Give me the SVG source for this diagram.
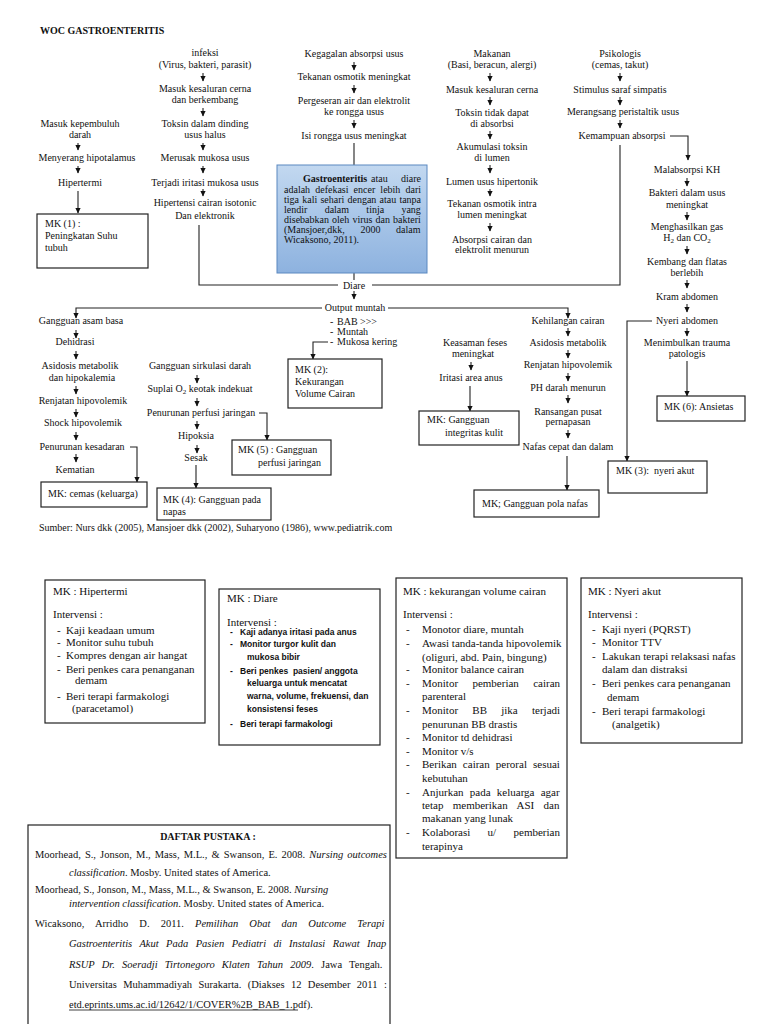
<svg xmlns="http://www.w3.org/2000/svg" width="768" height="1024" viewBox="0 0 768 1024">
<defs>
<marker id="ah" markerUnits="userSpaceOnUse" markerWidth="6" markerHeight="6" refX="5" refY="3" orient="auto"><path d="M0,0.4 L5.5,3 L0,5.6 z" fill="#111"/></marker>
<linearGradient id="bg" x1="0" y1="0" x2="0" y2="1"><stop offset="0" stop-color="#c2d8f0"/><stop offset="1" stop-color="#8db2df"/></linearGradient>
<style>
text{font-family:"Liberation Serif","Times New Roman",serif;font-size:10px;fill:#111}
.m{text-anchor:middle}
.bx{fill:#fff;stroke:#222;stroke-width:1.2}
.c{fill:none;stroke:#222;stroke-width:1.1}
.a{fill:none;stroke:#111;stroke-width:1;marker-end:url(#ah)}
.ca{fill:none;stroke:#222;stroke-width:1.1;marker-end:url(#ah)}
.s11{font-size:11px}
.sb{font-family:"Liberation Sans",Arial,sans-serif;font-size:8.5px;font-weight:bold}
.r{font-size:10.5px}
.i{font-style:italic}
.sub{font-size:7px}
</style>
</defs>
<rect width="768" height="1024" fill="#fff"/>
<text x="40" y="34" font-weight="bold" font-size="9.5">WOC GASTROENTERITIS</text>

<g id="connectors">
<line class="a" x1="78" y1="143" x2="78" y2="150"/>
<line class="a" x1="78" y1="166" x2="78" y2="173"/>
<line class="a" x1="203" y1="73" x2="203" y2="81"/>
<line class="a" x1="203" y1="108" x2="203" y2="116"/>
<line class="a" x1="203" y1="143" x2="203" y2="150"/>
<line class="a" x1="203" y1="166" x2="203" y2="173"/>
<line class="a" x1="203" y1="189" x2="203" y2="196"/>
<line class="a" x1="354" y1="62" x2="354" y2="70"/>
<line class="a" x1="354" y1="85" x2="354" y2="93"/>
<line class="a" x1="354" y1="120" x2="354" y2="128"/>
<line class="a" x1="490" y1="73" x2="490" y2="81"/>
<line class="a" x1="490" y1="97" x2="490" y2="105"/>
<line class="a" x1="490" y1="131" x2="490" y2="139"/>
<line class="a" x1="490" y1="165" x2="490" y2="173"/>
<line class="a" x1="490" y1="189" x2="490" y2="196"/>
<line class="a" x1="490" y1="223" x2="490" y2="231"/>
<line class="a" x1="620" y1="73" x2="620" y2="81"/>
<line class="a" x1="620" y1="97" x2="620" y2="105"/>
<line class="a" x1="620" y1="120" x2="620" y2="128"/>
<line class="a" x1="687" y1="178" x2="687" y2="186"/>
<line class="a" x1="687" y1="212" x2="687" y2="220"/>
<line class="a" x1="687" y1="246" x2="687" y2="254"/>
<line class="a" x1="687" y1="280" x2="687" y2="288"/>
<line class="a" x1="687" y1="304" x2="687" y2="312"/>
<line class="a" x1="687" y1="328" x2="687" y2="336"/>
<line class="a" x1="354" y1="291" x2="354" y2="299"/>
<line class="a" x1="568" y1="328" x2="568" y2="336"/>
<line class="a" x1="568" y1="350" x2="568" y2="358"/>
<line class="a" x1="568" y1="373" x2="568" y2="381"/>
<line class="a" x1="568" y1="395" x2="568" y2="403"/>
<line class="a" x1="568" y1="430" x2="568" y2="438"/>
<line class="a" x1="471" y1="362" x2="471" y2="370"/>
<line class="a" x1="76" y1="330" x2="76" y2="338"/>
<line class="a" x1="76" y1="351" x2="76" y2="359"/>
<line class="a" x1="76" y1="386" x2="76" y2="394"/>
<line class="a" x1="76" y1="409" x2="76" y2="417"/>
<line class="a" x1="76" y1="432" x2="76" y2="440"/>
<line class="a" x1="76" y1="454" x2="76" y2="462"/>
<line class="a" x1="197" y1="375" x2="197" y2="383"/>
<line class="a" x1="197" y1="398" x2="197" y2="406"/>
<line class="a" x1="197" y1="421" x2="197" y2="429"/>
<line class="a" x1="197" y1="445" x2="197" y2="453"/>
<path class="ca" d="M78,191 V213"/>
<path class="c" d="M199,225 V285 H338"/>
<path class="c" d="M620,145 V285 H372"/>
<path class="c" d="M354,143 V165"/>
<path class="c" d="M354,273 V280"/>
<path class="ca" d="M322,308 H76 V318"/>
<path class="ca" d="M388,308 H568 V318"/>
<path class="ca" d="M328,342 H313 V359"/>
<path class="ca" d="M670,136 H688 V160"/>
<path class="ca" d="M652,321 H627 V461"/>
<path class="ca" d="M687,361 V396"/>
<path class="ca" d="M567,456 V490"/>
<path class="ca" d="M470,386 V411"/>
<path class="ca" d="M130,447 H137 V482"/>
<path class="ca" d="M259,413 H267 V440"/>
<path class="ca" d="M196,465 V488"/>
</g>

<g id="n-kepembuluh"><text class="m" x="80" y="127">Masuk kepembuluh</text><text class="m" x="80" y="138">darah</text></g>
<g id="n-hipotalamus"><text class="m" x="87" y="161">Menyerang hipotalamus</text></g>
<g id="n-hipertermi"><text class="m" x="80" y="186">Hipertermi</text></g>
<g id="mk1"><rect class="bx" x="37" y="214" width="111" height="54"/><text x="45" y="227">MK (1) :</text><text x="45" y="239">Peningkatan Suhu</text><text x="45" y="251">tubuh</text></g>

<g id="n-infeksi"><text class="m" x="205" y="56">infeksi</text><text class="m" x="205" y="68">(Virus, bakteri, parasit)</text></g>
<g id="n-masuk1"><text class="m" x="205" y="92">Masuk kesaluran cerna</text><text class="m" x="205" y="103">dan berkembang</text></g>
<g id="n-toksin1"><text class="m" x="205" y="127">Toksin dalam dinding</text><text class="m" x="205" y="138">usus halus</text></g>
<g id="n-merusak"><text class="m" x="205" y="161">Merusak mukosa usus</text></g>
<g id="n-iritasi"><text class="m" x="205" y="186">Terjadi iritasi mukosa usus</text></g>
<g id="n-hipertensi"><text class="m" x="205" y="206">Hipertensi cairan isotonic</text><text class="m" x="205" y="219">Dan elektronik</text></g>

<g id="n-kegagalan"><text class="m" x="354" y="57">Kegagalan absorpsi usus</text></g>
<g id="n-tekanan1"><text class="m" x="354" y="80">Tekanan osmotik meningkat</text></g>
<g id="n-pergeseran"><text class="m" x="354" y="104">Pergeseran air dan elektrolit</text><text class="m" x="354" y="115">ke rongga usus</text></g>
<g id="n-isi"><text class="m" x="354" y="139">Isi rongga usus meningkat</text></g>
<g id="n-def">
<rect x="277" y="165" width="150" height="108" fill="url(#bg)" stroke="#5a88c0" stroke-width="1"/>
<text x="303" y="182" font-weight="bold">Gastroenteritis</text><text x="371" y="182">atau</text><text x="421" y="182" text-anchor="end">diare</text>
<text x="284" y="192.5" word-spacing="2.6">adalah defekasi encer lebih dari</text>
<text x="284" y="202.5" word-spacing="0.7">tiga kali sehari dengan atau tanpa</text>
<text x="284" y="212.5" word-spacing="14.8">lendir dalam tinja yang</text>
<text x="284" y="222.5" word-spacing="0.6">disebabkan oleh virus dan bakteri</text>
<text x="284" y="232.5" word-spacing="13.2">(Mansjoer,dkk, 2000 dalam</text>
<text x="284" y="242.5">Wicaksono, 2011).</text>
</g>
<g id="n-diare"><text class="m" x="354" y="289">Diare</text></g>
<g id="n-output"><text class="m" x="355" y="311">Output muntah</text>
<text x="330" y="325">-</text><text x="337" y="325">BAB &gt;&gt;&gt;</text>
<text x="330" y="335">-</text><text x="337" y="335">Muntah</text>
<text x="330" y="345">-</text><text x="337" y="345">Mukosa kering</text></g>
<g id="mk2"><rect class="bx" x="288" y="359" width="94" height="49"/><text x="295" y="373">MK (2):</text><text x="295" y="385">Kekurangan</text><text x="295" y="397">Volume Cairan</text></g>

<g id="n-makanan"><text class="m" x="492" y="57">Makanan</text><text class="m" x="492" y="68">(Basi, beracun, alergi)</text></g>
<g id="n-masuk2"><text class="m" x="492" y="93">Masuk kesaluran cerna</text></g>
<g id="n-toksin2"><text class="m" x="492" y="116">Toksin tidak dapat</text><text class="m" x="492" y="127">di absorbsi</text></g>
<g id="n-akumulasi"><text class="m" x="492" y="150">Akumulasi toksin</text><text class="m" x="492" y="161">di lumen</text></g>
<g id="n-lumen"><text class="m" x="492" y="185">Lumen usus hipertonik</text></g>
<g id="n-tekanan2"><text class="m" x="492" y="207">Tekanan osmotik intra</text><text class="m" x="492" y="218">lumen meningkat</text></g>
<g id="n-absorpsi"><text class="m" x="492" y="243">Absorpsi cairan dan</text><text class="m" x="492" y="253">elektrolit menurun</text></g>

<g id="n-psikologis"><text class="m" x="620" y="57">Psikologis</text><text class="m" x="620" y="68">(cemas, takut)</text></g>
<g id="n-stimulus"><text class="m" x="620" y="93">Stimulus saraf simpatis</text></g>
<g id="n-merangsang"><text class="m" x="623" y="115">Merangsang peristaltik usus</text></g>
<g id="n-kemampuan"><text class="m" x="622" y="139">Kemampuan absorpsi</text></g>

<g id="n-malabsorpsi"><text class="m" x="687" y="173">Malabsorpsi KH</text></g>
<g id="n-bakteri"><text class="m" x="687" y="196">Bakteri dalam usus</text><text class="m" x="687" y="208">meningkat</text></g>
<g id="n-gas"><text class="m" x="687" y="230">Menghasilkan gas</text><text class="m" x="687" y="241">H<tspan class="sub" dy="2">2</tspan><tspan dy="-2"> dan CO</tspan><tspan class="sub" dy="2">2</tspan></text></g>
<g id="n-kembang"><text class="m" x="687" y="265">Kembang dan flatas</text><text class="m" x="687" y="276">berlebih</text></g>
<g id="n-kram"><text class="m" x="687" y="300">Kram abdomen</text></g>
<g id="n-nyeri"><text class="m" x="687" y="324">Nyeri abdomen</text></g>
<g id="n-trauma"><text class="m" x="687" y="346">Menimbulkan trauma</text><text class="m" x="687" y="357">patologis</text></g>
<g id="mk6"><rect class="bx" x="657" y="396" width="88" height="25"/><text x="664" y="410">MK (6): Ansietas</text></g>
<g id="mk3"><rect class="bx" x="608" y="461" width="99" height="32"/><text x="616" y="474" xml:space="preserve">MK (3):  nyeri akut</text></g>

<g id="n-kehilangan"><text class="m" x="568" y="324">Kehilangan cairan</text></g>
<g id="n-asidosis2"><text class="m" x="568" y="346">Asidosis metabolik</text></g>
<g id="n-renjatan2"><text class="m" x="568" y="368">Renjatan hipovolemik</text></g>
<g id="n-ph"><text class="m" x="568" y="391">PH darah menurun</text></g>
<g id="n-ransangan"><text class="m" x="568" y="415">Ransangan pusat</text><text class="m" x="568" y="425">pernapasan</text></g>
<g id="n-nafas"><text class="m" x="568" y="450">Nafas cepat dan dalam</text></g>
<g id="mk-pola"><rect class="bx" x="474" y="490" width="125" height="27"/><text x="482" y="507">MK; Gangguan pola nafas</text></g>

<g id="n-keasaman"><text class="m" x="475" y="346">Keasaman feses</text><text class="m" x="473" y="357">meningkat</text></g>
<g id="n-iritasi-anus"><text class="m" x="471" y="381">Iritasi area anus</text></g>
<g id="mk-kulit"><rect class="bx" x="419" y="411" width="100" height="34"/><text x="427" y="423">MK: Gangguan</text><text x="445" y="436">integritas kulit</text></g>

<g id="n-asam"><text class="m" x="81" y="324">Gangguan asam basa</text></g>
<g id="n-dehidrasi"><text class="m" x="75" y="345">Dehidrasi</text></g>
<g id="n-asidosis1"><text class="m" x="80" y="369">Asidosis metabolik</text><text class="m" x="82" y="381">dan hipokalemia</text></g>
<g id="n-renjatan1"><text class="m" x="83" y="404">Renjatan hipovolemik</text></g>
<g id="n-shock"><text class="m" x="83" y="426">Shock hipovolemik</text></g>
<g id="n-kesadaran"><text class="m" x="82" y="450">Penurunan kesadaran</text></g>
<g id="n-kematian"><text class="m" x="75" y="473">Kematian</text></g>
<g id="mk-cemas"><rect class="bx" x="41" y="482" width="106" height="25"/><text x="48" y="497">MK: cemas (keluarga)</text></g>

<g id="n-sirkulasi"><text class="m" x="200" y="369">Gangguan sirkulasi darah</text></g>
<g id="n-suplai"><text class="m" x="200" y="392">Suplai O<tspan class="sub" dy="2">2</tspan><tspan dy="-2"> keotak indekuat</tspan></text></g>
<g id="n-perfusi"><text class="m" x="201" y="416">Penurunan perfusi jaringan</text></g>
<g id="n-hipoksia"><text class="m" x="196" y="439">Hipoksia</text></g>
<g id="n-sesak"><text class="m" x="196" y="461">Sesak</text></g>
<g id="mk4"><rect class="bx" x="157" y="488" width="114" height="32"/><text x="163" y="503">MK (4): Gangguan pada</text><text x="163" y="515">napas</text></g>
<g id="mk5"><rect class="bx" x="232" y="440" width="99" height="35"/><text x="238" y="453">MK (5) : Gangguan</text><text x="258" y="466">perfusi jaringan</text></g>

<text x="39" y="531">Sumber: Nurs dkk (2005), Mansjoer dkk (2002), Suharyono (1986), www.pediatrik.com</text>

<g id="box-hipertermi">
<rect class="bx" x="45" y="580" width="160" height="143"/>
<text class="s11" x="53" y="595">MK : Hipertermi</text>
<text class="s11" x="53" y="618">Intervensi :</text>
<text class="s11" x="57" y="634">-</text><text class="s11" x="66" y="634">Kaji keadaan umum</text>
<text class="s11" x="57" y="646">-</text><text class="s11" x="66" y="646">Monitor suhu tubuh</text>
<text class="s11" x="57" y="659">-</text><text class="s11" x="66" y="659">Kompres dengan air hangat</text>
<text class="s11" x="57" y="673">-</text><text class="s11" x="66" y="673">Beri penkes cara penanganan</text>
<text class="s11" x="75" y="684">demam</text>
<text class="s11" x="57" y="700">-</text><text class="s11" x="66" y="700">Beri terapi farmakologi</text>
<text class="s11" x="72" y="712">(paracetamol)</text>
</g>

<g id="box-diare">
<rect class="bx" x="219" y="589" width="161" height="156"/>
<text class="s11" x="227" y="602">MK : Diare</text>
<text class="s11" x="227" y="626">Intervensi :</text>
<text class="sb" x="230" y="635">-</text><text class="sb" x="240" y="635">Kaji adanya iritasi pada anus</text>
<text class="sb" x="230" y="647">-</text><text class="sb" x="240" y="647">Monitor turgor kulit dan</text>
<text class="sb" x="247" y="660">mukosa bibir</text>
<text class="sb" x="230" y="674">-</text><text class="sb" x="240" y="674" xml:space="preserve">Beri penkes  pasien/ anggota</text>
<text class="sb" x="247" y="686">keluarga untuk mencatat</text>
<text class="sb" x="247" y="699">warna, volume, frekuensi, dan</text>
<text class="sb" x="247" y="712">konsistensi feses</text>
<text class="sb" x="230" y="727">-</text><text class="sb" x="240" y="727">Beri terapi farmakologi</text>
</g>

<g id="box-volume">
<rect class="bx" x="396" y="578" width="171" height="280"/>
<text class="s11" x="403" y="595">MK : kekurangan volume cairan</text>
<text class="s11" x="403" y="618">Intervensi :</text>
<text class="s11" x="406" y="633">-</text><text class="s11" x="422" y="633">Monotor diare, muntah</text>
<text class="s11" x="406" y="647">-</text><text class="s11" x="422" y="647">Awasi tanda-tanda hipovolemik</text>
<text class="s11" x="422" y="661">(oliguri, abd. Pain, bingung)</text>
<text class="s11" x="406" y="673">-</text><text class="s11" x="422" y="673">Monitor balance cairan</text>
<text class="s11" x="406" y="687">-</text><text class="s11" x="422" y="687" word-spacing="11.6">Monitor pemberian cairan</text>
<text class="s11" x="422" y="700">parenteral</text>
<text class="s11" x="406" y="714">-</text><text class="s11" x="422" y="714" word-spacing="11.5">Monitor BB jika terjadi</text>
<text class="s11" x="422" y="728">penurunan BB drastis</text>
<text class="s11" x="406" y="741">-</text><text class="s11" x="422" y="741">Monitor td dehidrasi</text>
<text class="s11" x="406" y="755">-</text><text class="s11" x="422" y="755">Monitor v/s</text>
<text class="s11" x="406" y="768">-</text><text class="s11" x="422" y="768" word-spacing="3.3">Berikan cairan peroral sesuai</text>
<text class="s11" x="422" y="782">kebutuhan</text>
<text class="s11" x="406" y="796">-</text><text class="s11" x="422" y="796" word-spacing="3.5">Anjurkan pada keluarga agar</text>
<text class="s11" x="422" y="809" word-spacing="6.6">tetap memberikan ASI dan</text>
<text class="s11" x="422" y="822">makanan yang lunak</text>
<text class="s11" x="406" y="836">-</text><text class="s11" x="422" y="836" word-spacing="14.6">Kolaborasi u/ pemberian</text>
<text class="s11" x="422" y="850">terapinya</text>
</g>

<g id="box-nyeri">
<rect class="bx" x="581" y="578" width="161" height="165"/>
<text class="s11" x="588" y="595">MK : Nyeri akut</text>
<text class="s11" x="588" y="618">Intervensi :</text>
<text class="s11" x="592" y="633">-</text><text class="s11" x="602" y="633">Kaji nyeri (PQRST)</text>
<text class="s11" x="592" y="646">-</text><text class="s11" x="602" y="646">Monitor TTV</text>
<text class="s11" x="592" y="660">-</text><text class="s11" x="602" y="660">Lakukan terapi relaksasi nafas</text>
<text class="s11" x="602" y="673">dalam dan distraksi</text>
<text class="s11" x="592" y="687">-</text><text class="s11" x="602" y="687">Beri penkes cara penanganan</text>
<text class="s11" x="607" y="701">demam</text>
<text class="s11" x="592" y="715">-</text><text class="s11" x="602" y="715">Beri terapi farmakologi</text>
<text class="s11" x="612" y="728">(analgetik)</text>
</g>

<g id="daftar-pustaka">
<rect class="bx" x="28" y="825" width="362" height="210"/>
<text class="m" x="208" y="840" font-weight="bold">DAFTAR PUSTAKA :</text>
<text class="r" x="35" y="858" word-spacing="1.5">Moorhead, S., Jonson, M., Mass, M.L., &amp; Swanson, E. 2008. <tspan class="i">Nursing outcomes</tspan></text>
<text class="r" x="69" y="876"><tspan class="i">classification</tspan>. Mosby. United states of America.</text>
<text class="r" x="35" y="893">Moorhead, S., Jonson, M., Mass, M.L., &amp; Swanson, E. 2008. <tspan class="i">Nursing</tspan></text>
<text class="r" x="69" y="907"><tspan class="i">intervention classification</tspan>. Mosby. United states of America.</text>
<text class="r" x="35" y="927" word-spacing="8.5">Wicaksono, Arridho D. 2011. <tspan class="i">Pemilihan Obat dan Outcome Terapi</tspan></text>
<text class="r i" x="69" y="947" word-spacing="4.8">Gastroenteritis Akut Pada Pasien Pediatri di Instalasi Rawat Inap</text>
<text class="r" x="69" y="968" word-spacing="4.6"><tspan class="i">RSUP Dr. Soeradji Tirtonegoro Klaten Tahun 2009</tspan>. Jawa Tengah.</text>
<text class="r" x="69" y="988" word-spacing="3.8">Universitas Muhammadiyah Surakarta. (Diakses 12 Desember 2011 :</text>
<text class="r" x="69" y="1008">etd.eprints.ums.ac.id/12642/1/COVER%2B_BAB_1.pdf).</text>
<line x1="69" y1="1010" x2="298" y2="1010" stroke="#111" stroke-width="0.8"/>
</g>
</svg>
